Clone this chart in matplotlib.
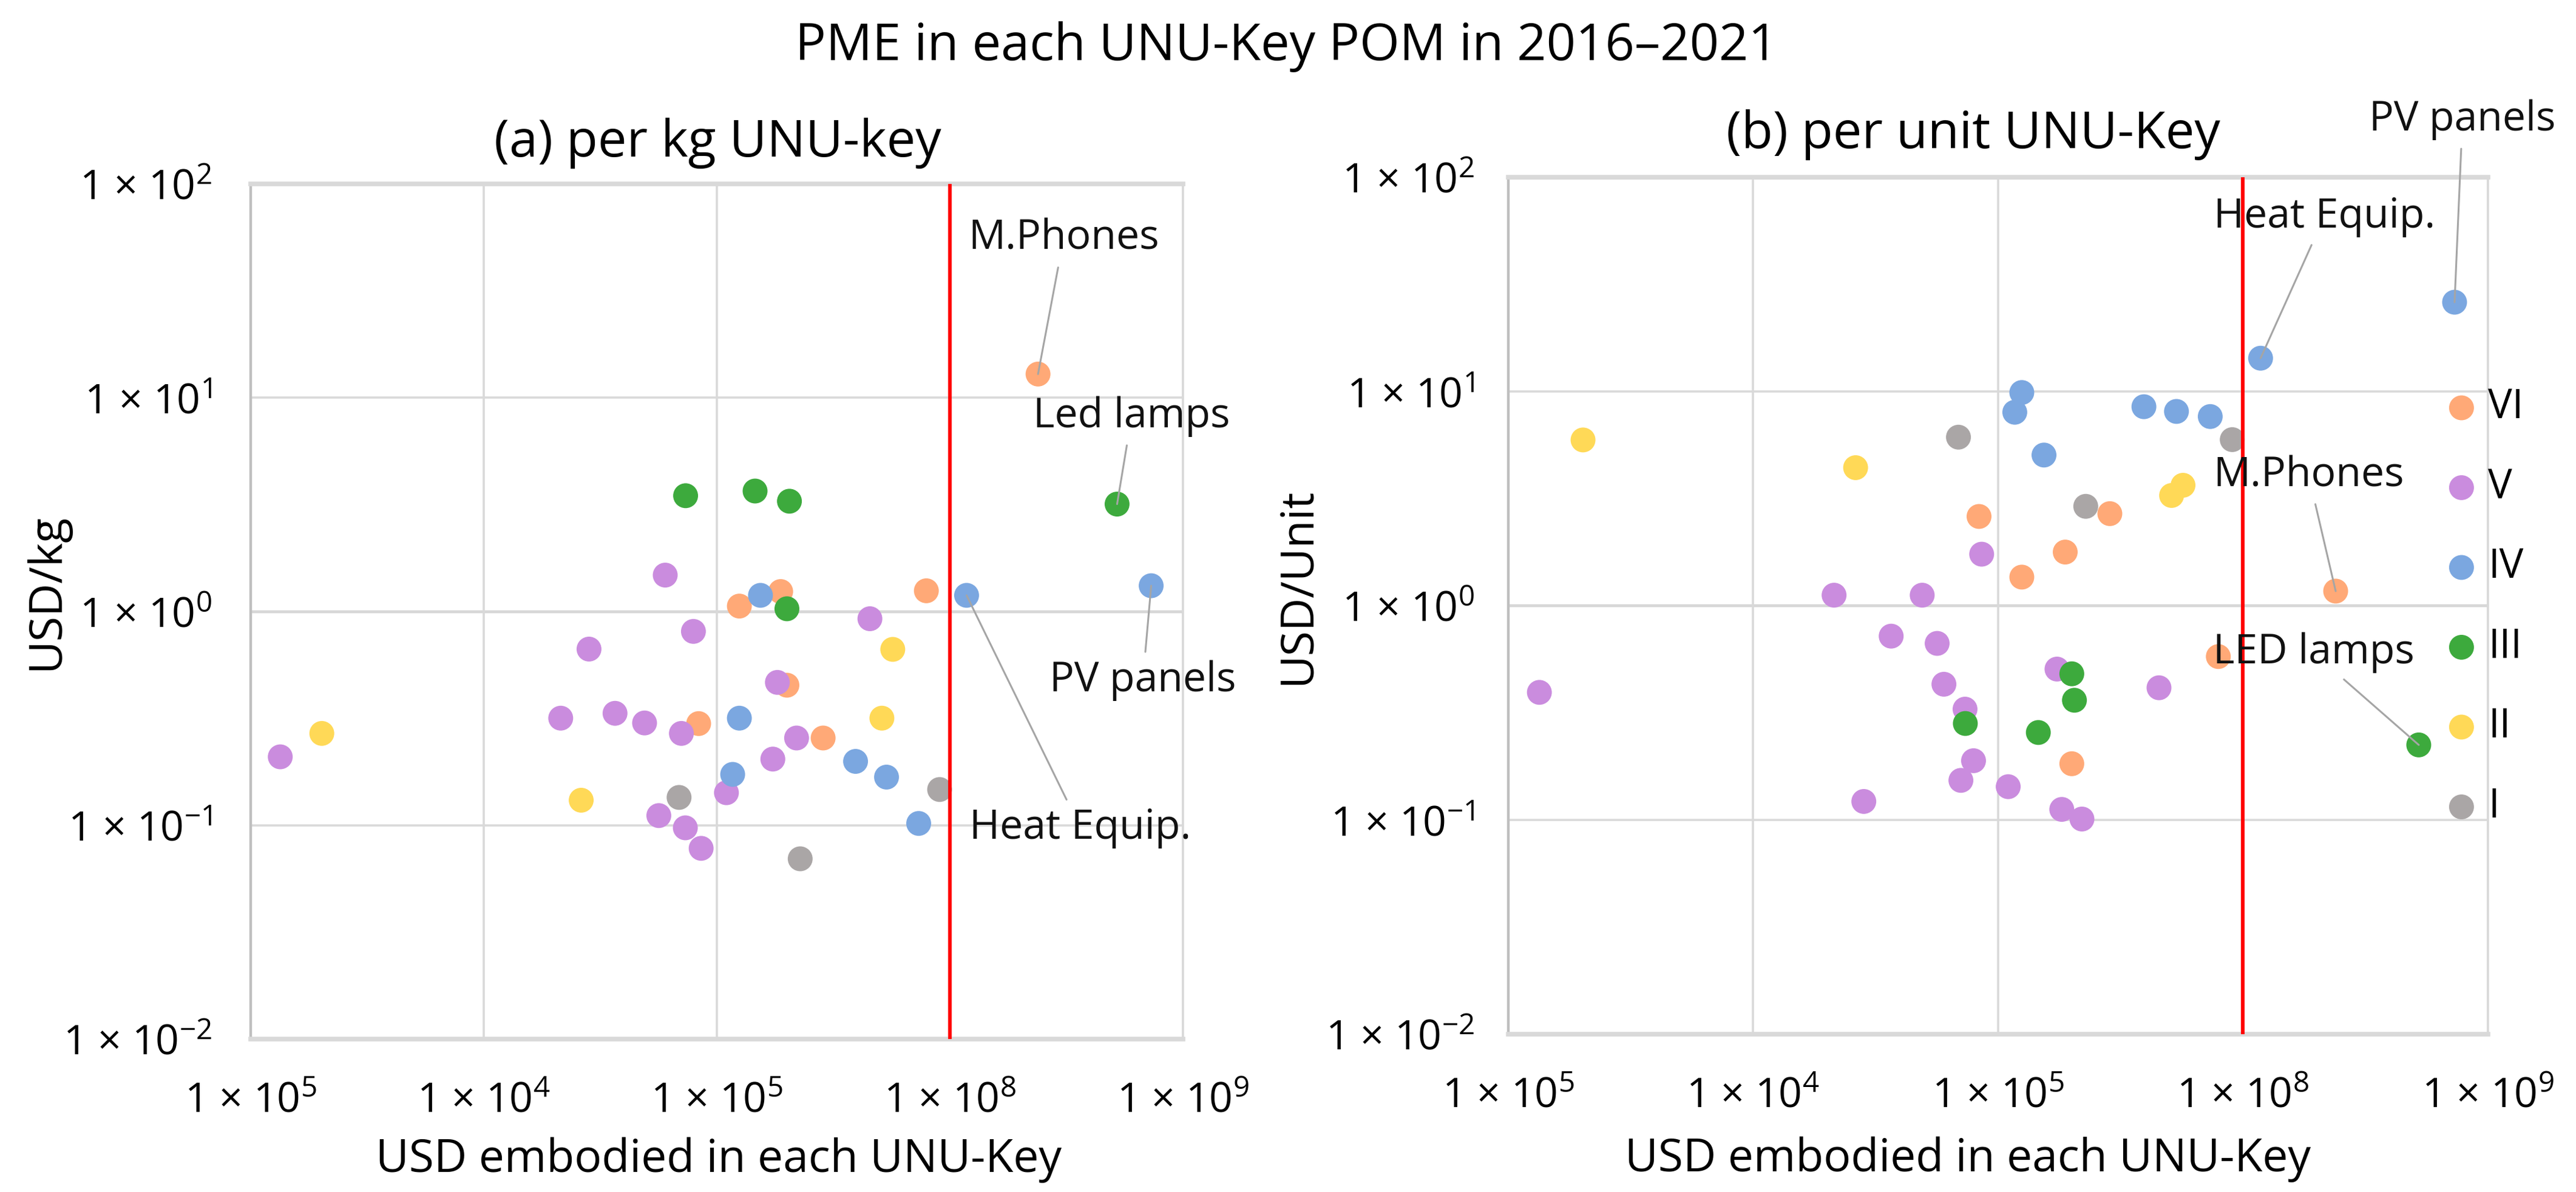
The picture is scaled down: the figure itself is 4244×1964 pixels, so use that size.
import numpy as np
import matplotlib
matplotlib.use("Agg")
import matplotlib.pyplot as plt

plt.rcParams['font.family'] = ['Open Sans', 'DejaVu Sans']
plt.rcParams['mathtext.fontset'] = 'custom'
plt.rcParams['mathtext.rm'] = 'Open Sans'
plt.rcParams['mathtext.default'] = 'regular'

# categories (UNU-Key groups), drawn in this order
cats = ['VI', 'V', 'IV', 'III', 'II', 'I']
colors = ['#FFA977', '#CA8CDE', '#7BA7E0', '#3DAA3D', '#FFD957', '#AAA6A6']

# USD embodied in each UNU-Key, and PME per kg / per unit
VI_usd = [8.36e6, 7.93e7, 1.88e7, 1.25e7, 2.00e7, 2.86e7, 2.39e8]
VI_kg = [0.299, 1.25, 1.24, 1.06, 0.452, 0.256, 12.9]
VI_unit = [2.61, 0.579, 1.78, 1.36, 0.183, 2.69, 1.17]

V_usd = [1.34e5, 2.14e6, 2.83e6, 3.66e6, 4.90e6, 5.64e6, 6.01e6, 7.05e6,
         7.33e6, 7.94e6, 8.57e6, 1.10e7, 1.74e7, 1.82e7, 2.20e7, 4.54e7]
V_kg = [0.209, 0.317, 0.667, 0.334, 0.301, 0.111, 1.48, 0.269,
        0.0973, 0.807, 0.0780, 0.142, 0.204, 0.466, 0.256, 0.925]
V_unit = [0.394, 1.12, 0.122, 0.721, 1.12, 0.667, 0.430, 0.153,
          0.329, 0.189, 1.74, 0.143, 0.506, 0.112, 0.101, 0.414]

IV_usd = [1.17e7, 1.25e7, 1.54e7, 3.94e7, 5.35e7, 7.35e7, 1.18e8, 7.31e8]
IV_kg = [0.173, 0.317, 1.19, 0.199, 0.168, 0.102, 1.19, 1.32]
IV_unit = [8.00, 9.89, 5.05, 8.49, 8.07, 7.64, 14.3, 26.1]

III_usd = [7.35e6, 1.46e7, 2.00e7, 2.05e7, 5.22e8]
III_kg = [3.48, 3.66, 1.03, 3.28, 3.18]
III_unit = [0.282, 0.256, 0.481, 0.362, 0.224]

II_usd = [2.02e5, 2.62e6, 5.69e7, 5.11e7]
II_kg = [0.269, 0.131, 0.665, 0.317]
II_unit = [5.94, 4.41, 3.65, 3.27]

I_usd = [6.89e6, 9.04e7, 2.28e7]
I_kg = [0.135, 0.147, 0.0697]
I_unit = [6.12, 5.96, 2.91]

usd = [VI_usd, V_usd, IV_usd, III_usd, II_usd, I_usd]
per_kg = [VI_kg, V_kg, IV_kg, III_kg, II_kg, I_kg]
per_unit = [VI_unit, V_unit, IV_unit, III_unit, II_unit, I_unit]

x_ticks = [1e5, 1e6, 1e7, 1e8, 1e9]
x_ticklabels = ['1 × 10$^{5}$', '1 × 10$^{4}$', '1 × 10$^{5}$', '1 × 10$^{8}$', '1 × 10$^{9}$']
y_ticks = [1e-2, 1e-1, 1e0, 1e1, 1e2]
y_ticklabels = ['1 × 10$^{-2}$', '1 × 10$^{-1}$', '1 × 10$^{0}$', '1 × 10$^{1}$', '1 × 10$^{2}$']
threshold = 1e8

# (label, category, index, text position in axes fraction)
notes_kg = [('M.Phones', 0, 6, (0.872, 0.936)),
            ('Led lamps', 3, 4, (0.945, 0.728)),
            ('PV panels', 2, 7, (0.957, 0.419)),
            ('Heat Equip.', 2, 6, (0.890, 0.247))]
notes_unit = [('Heat Equip.', 2, 6, (0.833, 0.954)),
              ('PV panels', 2, 7, (0.974, 1.067)),
              ('M.Phones', 0, 6, (0.817, 0.652)),
              ('LED lamps', 3, 4, (0.822, 0.445))]

fig = plt.figure(figsize=(42.44, 19.64), dpi=100)
ax1 = fig.add_axes([0.0973, 0.1283, 0.3619, 0.7174])
ax2 = fig.add_axes([0.5855, 0.1324, 0.3803, 0.7189])


def style_axis(ax, ypad):
	ax.set_xscale('log')
	ax.set_yscale('log')
	ax.set_xlim(1e5, 1e9)
	ax.set_ylim(1e-2, 1e2)
	ax.set_xticks(x_ticks)
	ax.set_xticklabels(x_ticklabels)
	ax.set_yticks(y_ticks)
	ax.set_yticklabels(y_ticklabels)
	ax.minorticks_off()
	ax.tick_params(axis='both', length=0, labelsize=49)
	ax.tick_params(axis='x', pad=50)
	ax.tick_params(axis='y', pad=ypad)
	ax.grid(True, which='major', color='#D9D9D9', lw=2.6, zorder=0)
	ax.set_axisbelow(True)
	ax.axhline(1, color='#BFBFBF', lw=3.2, zorder=0.5)
	ax.spines['left'].set_color('#BFBFBF')
	ax.spines['left'].set_linewidth(3.2)
	ax.spines['right'].set_color('#D9D9D9')
	ax.spines['right'].set_linewidth(2.6)
	for s in ['top', 'bottom']:
		ax.spines[s].set_color('#D9D9D9')
		ax.spines[s].set_linewidth(5.5)
	ax.axvline(threshold, color='red', lw=4.3, zorder=3)


def draw(ax, yvals, notes):
	handles = []
	for c, col, xs, ys in zip(cats, colors, usd, yvals):
		h = ax.scatter(xs, ys, s=870, color=col, edgecolors='none', zorder=2, label=c)
		handles.append(h)
	for txt, ci, idx, pos in notes:
		ax.annotate(txt, xy=(usd[ci][idx], yvals[ci][idx]), xycoords='data',
		            xytext=pos, textcoords='axes fraction', ha='center', va='center',
		            fontsize=49, color='#111111', zorder=4,
		            arrowprops=dict(arrowstyle='-', color='#A5A5A5', lw=2.2,
		                            shrinkA=8, shrinkB=0))
	return handles


style_axis(ax1, 46)
style_axis(ax2, 40)
draw(ax1, per_kg, notes_kg)
handles = draw(ax2, per_unit, notes_unit)

ax2.legend(handles=handles, loc='center left', bbox_to_anchor=(0.9477, 0.4906),
           bbox_transform=fig.transFigure, frameon=False, fontsize=48,
           handlelength=1.0, handletextpad=0.16, labelspacing=0.96,
           borderpad=0, borderaxespad=0, scatterpoints=1)

fig.text(0.4995, 0.9608, 'PME in each UNU-Key POM in 2016–2021', ha='center', va='center', fontsize=61)
fig.text(0.2787, 0.880, '(a) per kg UNU-key', ha='center', va='center', fontsize=61)
fig.text(0.766, 0.887, '(b) per unit UNU-Key', ha='center', va='center', fontsize=61)
fig.text(0.018, 0.5036, 'USD/kg', rotation=90, ha='center', va='center', fontsize=54)
fig.text(0.5038, 0.508, 'USD/Unit', rotation=90, ha='center', va='center', fontsize=54)
fig.text(0.279, 0.027, 'USD embodied in each UNU-Key', ha='center', va='center', fontsize=54)
fig.text(0.764, 0.0275, 'USD embodied in each UNU-Key', ha='center', va='center', fontsize=54)

fig.savefig('out.png', dpi=100)
